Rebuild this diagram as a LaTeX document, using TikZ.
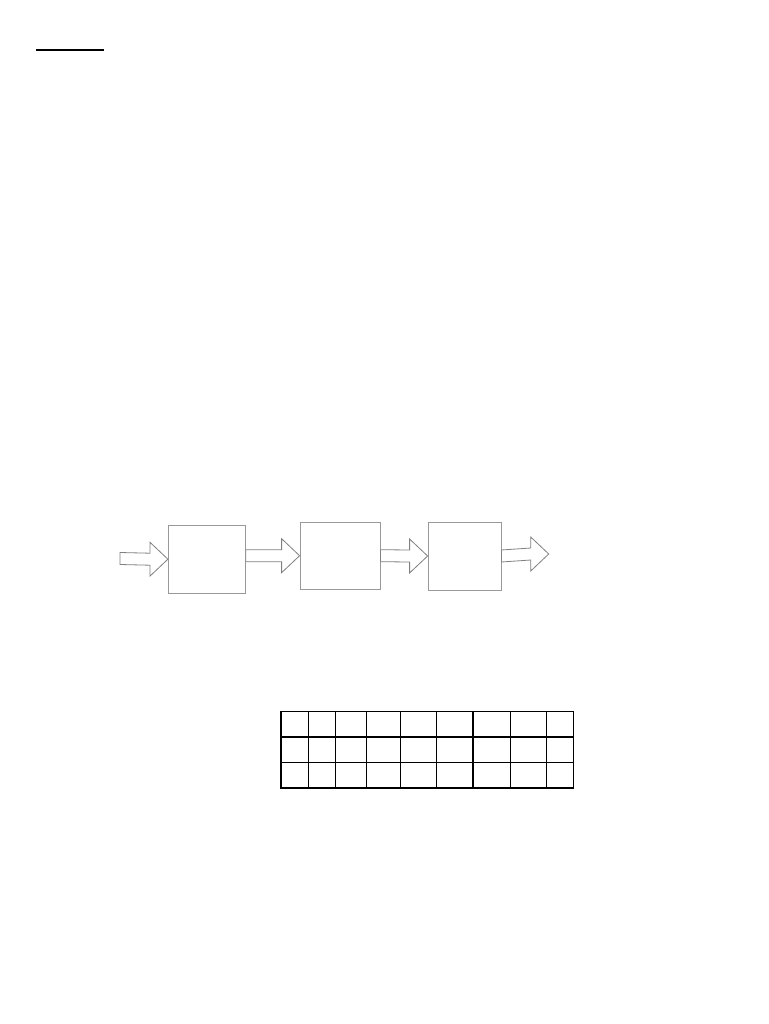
\documentclass[tikz,border=0pt]{standalone}
\usetikzlibrary{calc,positioning}

\newcommand{\fatarrow}[2]{%
  \draw[fat] ($(#1)+(0,-6)$) -- ($(#2)+(-18,-6)$) -- ($(#2)+(-18,-17)$) -- (#2)
    -- ($(#2)+(-18,17)$) -- ($(#2)+(-18,6)$) -- ($(#1)+(0,6)$) -- cycle;}

\begin{document}
\begin{tikzpicture}[x=1pt,y=-1pt,
  block/.style={draw=black!40,line width=0.8pt,inner sep=0pt},
  fat/.style={draw=black!50,line width=0.8pt,fill=white,line join=miter},
  grid/.style={line width=1.2pt}]
\useasboundingbox[fill=white] (0,0) rectangle (768,1024);
\draw[line width=2pt] (36,50) -- (104,50);
% blocks
\node[block,minimum width=77pt,minimum height=68pt] (b1) at (206.8,559.2) {};
\node[block,minimum width=80pt,minimum height=67pt] (b2) at (340,555.7) {};
\node[block,minimum width=73pt,minimum height=68pt] (b3) at (464.5,556) {};
\coordinate (in) at (120,558.5);
\coordinate (s1) at (b1.east |- b2.west);
\coordinate (out) at ($(b3.east)+(47.3,-2)$);
\fatarrow{in}{b1.west}
\fatarrow{s1}{b2.west}
\fatarrow{b2.east}{b3.west}
\fatarrow{b3.east}{out}
% table
\draw[grid] (281,711.7) rectangle (573.3,788);
\foreach \y in {737,762.3}
  \draw[grid] (281,\y) -- (573.3,\y);
\foreach \x in {308.3,335.3,366.3,400.3,436.7,473,510.7,546.3}
  \draw[grid] (\x,711.7) -- (\x,788);
\end{tikzpicture}
\end{document}
